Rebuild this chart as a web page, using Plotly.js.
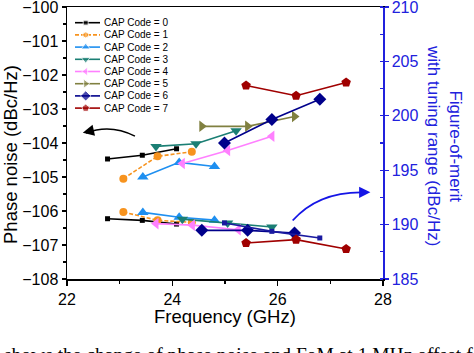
<!DOCTYPE html>
<html><head><meta charset="utf-8">
<script src="https://cdn.plot.ly/plotly-3.0.1.min.js"></script>
<style>html,body{margin:0;padding:0;background:#fff}#chart{width:474px;height:353px}</style>
</head><body><div id="chart"></div>
<script>
// ---- data ----
const seriesNames = ['CAP Code = 0','CAP Code = 1','CAP Code = 2','CAP Code = 3','CAP Code = 4','CAP Code = 5','CAP Code = 6','CAP Code = 7'];

// Phase noise (left axis)
const pnFreq0 = [22.77, 23.43, 24.08]; const pn0 = [-104.47, -104.36, -104.17];
const pnFreq1 = [23.07, 23.72, 24.37]; const pn1 = [-105.05, -104.39, -104.26];
const pnFreq2 = [23.44, 24.13, 24.80]; const pn2 = [-105.00, -104.57, -104.69];
const pnFreq3 = [23.69, 24.45, 25.21]; const pn3 = [-104.10, -104.02, -103.64];
const pnFreq4 = [24.19, 25.05, 25.89]; const pn4 = [-104.60, -104.22, -103.80];
const pnFreq5 = [24.56, 25.43, 26.32]; const pn5 = [-103.51, -103.51, -103.22];
const pnFreq6 = [24.99, 25.89, 26.80]; const pn6 = [-104.00, -103.31, -102.71];
const pnFreq7 = [25.40, 26.35, 27.30]; const pn7 = [-102.31, -102.61, -102.22];

// FoM with tuning range (right axis)
const fomFreq0 = [22.77, 23.43, 24.08]; const fom0 = [190.54, 190.39, 190.05];
const fomFreq1 = [23.07, 23.72, 24.37]; const fom1 = [191.16, 190.39, 190.21];
const fomFreq2 = [23.44, 24.13, 24.80]; const fom2 = [191.12, 190.68, 190.41];
const fomFreq3 = [24.19, 25.05, 25.89]; const fom3 = [190.50, 190.15, 189.78];
const fomFreq4 = [23.69, 24.38, 25.25]; const fom4 = [190.09, 189.95, 189.53];
const fomFreq5 = [24.56, 25.43, 26.32]; const fom5 = [189.47, 189.47, 189.23];
const fomFreq6 = [24.99, 25.89, 26.80]; const fom6 = [190.15, 189.38, 188.77];
const fomFreq7 = [25.40, 26.35, 27.30]; const fom7 = [188.31, 188.62, 187.76];

const xTicks = [22, 24, 26, 28];
const yLeftTicks = [-108, -107, -106, -105, -104, -103, -102, -101, -100];
const yRightTicks = [185, 190, 195, 200, 205, 210];

// ---- styles ----
const colors = ['#000000','#f7931e','#1e8ff0','#1b7f74','#ff80ff','#808040','#00008b','#a00000'];
const symbols = ['square','circle','triangle-up','triangle-down','triangle-left','triangle-right','diamond','pentagon'];
const sizes = [5, 8, 10, 10, 10, 10, 10, 10];
const dashes = ['solid','4px,2px','solid','solid','solid','solid','solid','solid'];
const lowerColors = ['#000000','#f7931e','#1e8ff0','#1b7f74','#ff80ff','#00008b','#1a1aa0','#a00000'];
const lowerSymbols = ['square','circle','triangle-up','triangle-down','triangle-left','diamond','square','pentagon'];
const lowerSizes = [5, 8, 10, 10, 10, 10, 5, 10];

const pnX = [pnFreq0,pnFreq1,pnFreq2,pnFreq3,pnFreq4,pnFreq5,pnFreq6,pnFreq7];
const pnY = [pn0,pn1,pn2,pn3,pn4,pn5,pn6,pn7];
const fomX = [fomFreq0,fomFreq1,fomFreq2,fomFreq3,fomFreq4,fomFreq5,fomFreq6,fomFreq7];
const fomY = [fom0,fom1,fom2,fom3,fom4,fom5,fom6,fom7];

const FONT = 'Liberation Sans, Arial, sans-serif';
const BLUE = '#2121dd';
const traces = [];
for (let i = 0; i < 8; i++) {
  traces.push({x: fomX[i], y: fomY[i], yaxis: 'y2', type: 'scatter', mode: 'lines+markers', showlegend: false,
    line: {color: lowerColors[i], width: 1.6, dash: dashes[i]},
    marker: {symbol: lowerSymbols[i], size: lowerSizes[i], color: lowerColors[i]}});
}
for (let i = 0; i < 8; i++) {
  traces.push({x: pnX[i], y: pnY[i], type: 'scatter', mode: 'lines+markers', showlegend: false,
    line: {color: colors[i], width: 1.6, dash: dashes[i]},
    marker: {symbol: symbols[i], size: sizes[i], color: colors[i]}});
}
// custom compact legend (pixel-unit overlay axes)
const legTop = 15.7, legStep = 12.2;
const annotations = [];
seriesNames.forEach((name, i) => {
  const ry = legTop + legStep * i;
  traces.push({x: [8, 18.7, 33], y: [ry, ry, ry], xaxis: 'x3', yaxis: 'y3', type: 'scatter', mode: 'lines+markers',
    showlegend: false, hoverinfo: 'skip',
    line: {color: colors[i], width: 1.6, dash: dashes[i]},
    marker: {symbol: symbols[i], size: [0, Math.max(sizes[i] - 2, 5), 0], color: colors[i]}});
  annotations.push({xref: 'x3', yref: 'y3', x: 34.5, y: ry, text: name, showarrow: false, xanchor: 'left', yanchor: 'middle',
    font: {family: FONT, size: 10, color: '#000'}});
});

// axis titles
annotations.push({xref: 'paper', yref: 'paper', x: 0.5, y: 0, yshift: -37, text: 'Frequency (GHz)', showarrow: false,
  xanchor: 'center', yanchor: 'middle', font: {family: FONT, size: 18.5, color: '#000'}});
annotations.push({xref: 'paper', yref: 'paper', x: 0, xshift: -57, y: 0.5, yshift: -12, text: 'Phase noise (dBc/Hz)', showarrow: false,
  textangle: -90, xanchor: 'center', yanchor: 'middle', font: {family: FONT, size: 18.5, color: '#000'}});
annotations.push({xref: 'paper', yref: 'paper', x: 1, xshift: 62, y: 0.5, yshift: -2, text: 'Figure-of-merit<br>with tuning range (dBc/Hz)', showarrow: false,
  textangle: 90, xanchor: 'center', yanchor: 'middle', font: {family: FONT, size: 17, color: BLUE}});
// arrowheads
annotations.push({x: 22.30, y: -103.70, ax: 9, ay: -2, text: '', showarrow: true, arrowhead: 2, arrowsize: 1.5, arrowwidth: 1.5, arrowcolor: '#000'});
annotations.push({x: 27.76, y: -105.45, ax: -9, ay: 0, text: '', showarrow: true, arrowhead: 2, arrowsize: 1.5, arrowwidth: 1.5, arrowcolor: '#1515e6'});
// cropped caption line (only its top shows in the reference)
annotations.push({xref: 'paper', yref: 'paper', x: 0, xshift: -65, y: 0, yshift: -63, text: 'shows the change of phase noise and FoM at 1 MHz offset f',
  showarrow: false, xanchor: 'left', yanchor: 'top', font: {family: 'Liberation Serif, Times New Roman, serif', size: 19.5, color: '#000'}});

const shapes = [
  {type: 'path', xref: 'x', yref: 'y', path: 'M 23.29,-103.80 Q 22.82,-103.43 22.36,-103.71', line: {color: '#000', width: 1.5}},
  {type: 'path', xref: 'x', yref: 'y', path: 'M 26.285,-106.28 Q 26.77,-105.43 27.62,-105.45', line: {color: '#1515e6', width: 1.8}}
];

const layout = {
  width: 474, height: 353,
  margin: {l: 67, r: 91, t: 7, b: 74, pad: 0},
  paper_bgcolor: '#fff', plot_bgcolor: '#fff',
  showlegend: false,
  font: {family: FONT, size: 16, color: '#000'},
  xaxis: {range: [22, 28], tickvals: xTicks, ticks: 'outside', ticklen: 5, tickwidth: 1.2, tickcolor: '#000',
    showline: true, linecolor: '#000', linewidth: 1.5, mirror: true, showgrid: false, zeroline: false, ticklabeloverflow: 'allow',
    minor: {dtick: 1, tick0: 22, ticks: 'outside', ticklen: 3, tickcolor: '#000', showgrid: false},
    tickfont: {family: FONT, size: 16, color: '#000'}},
  yaxis: {range: [-108, -100], tickvals: yLeftTicks, ticks: 'outside', ticklen: 4, tickwidth: 1.2, tickcolor: '#000',
    showline: true, linecolor: '#000', linewidth: 1.5, showgrid: false, zeroline: false, ticklabeloverflow: 'allow',
    minor: {dtick: 0.5, tick0: -108, ticks: 'outside', ticklen: 3, tickcolor: '#000', showgrid: false},
    tickfont: {family: FONT, size: 16, color: '#000'}},
  yaxis2: {range: [185, 210], tickvals: yRightTicks, overlaying: 'y', side: 'right', ticks: 'outside', ticklen: 4, tickwidth: 1.2,
    tickcolor: BLUE, showline: true, linecolor: BLUE, linewidth: 1.5, showgrid: false, zeroline: false, ticklabeloverflow: 'allow',
    minor: {dtick: 2.5, tick0: 185, ticks: 'inside', ticklen: 3, tickcolor: BLUE, showgrid: false},
    tickfont: {family: FONT, size: 16, color: BLUE}},
  xaxis3: {overlaying: 'x', range: [0, 316], visible: false, fixedrange: true},
  yaxis3: {overlaying: 'y', range: [272, 0], visible: false, fixedrange: true},
  annotations: annotations,
  shapes: shapes
};
Plotly.newPlot('chart', traces, layout, {displayModeBar: false, staticPlot: true});
</script>
</body></html>
